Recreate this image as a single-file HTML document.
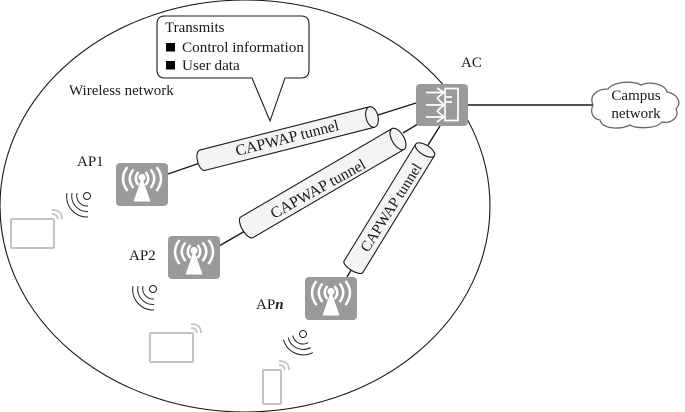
<!DOCTYPE html>
<html>
<head>
<meta charset="utf-8">
<style>
html,body{margin:0;padding:0;background:#fff}
svg{display:block}
text{font-family:"Liberation Serif",serif;fill:#1a1a1a}
</style>
</head>
<body>
<svg width="685" height="412" viewBox="0 0 685 412" xmlns="http://www.w3.org/2000/svg">
<defs>
<g id="ap">
<rect x="0" y="0" width="52" height="43" rx="4" fill="#9a9a9a"/>
<polygon points="26,14 17.500,38.500 34.500,38.500" fill="#fff"/>
<circle cx="26" cy="14.500" r="3.600" fill="#fff"/>
<g fill="none" stroke="#fff" stroke-width="2.500">
<path d="M22.500,9 Q17,15.500 22.500,22"/><path d="M29.500,9 Q35,15.500 29.500,22"/>
<path d="M17.500,6.500 Q10,15.500 17.500,25"/><path d="M34.500,6.500 Q42,15.500 34.500,25"/>
<path d="M11.500,4 Q2.500,15.500 11.500,28"/><path d="M40.500,4 Q49.500,15.500 40.500,28"/>
</g>
</g>
<g id="waves" fill="none" stroke="#222" stroke-width="1">
<circle cx="0" cy="0" r="3.500"/>
<path d="M-10,-3 A10.500,10.500 0 0 0 1,10"/>
<path d="M-15,-3 A15.500,15.500 0 0 0 1,15.500"/>
<path d="M-20,-3 A20.500,20.500 0 0 0 1,21"/>
</g>
<g id="sig" fill="none" stroke="#c4c4c4" stroke-width="1.800">
<path d="M-5,-3 Q0,-3 1,2"/>
<path d="M-5,-7 Q5,-7 5,2"/>
</g>
</defs>

<ellipse cx="245" cy="206" rx="245" ry="206" fill="#fff" stroke="#1a1a1a" stroke-width="1.100"/>

<!-- connectors -->
<g stroke="#1a1a1a" stroke-width="1.400" fill="none">
<line x1="168" y1="174" x2="200" y2="163"/>
<line x1="219" y1="246" x2="245" y2="231"/>
<line x1="347" y1="277" x2="356" y2="262"/>
<line x1="378" y1="115" x2="416" y2="103"/>
<line x1="403" y1="133" x2="418" y2="124"/>
<line x1="428" y1="145" x2="440" y2="126"/>
<line x1="468" y1="105" x2="593" y2="105"/>
</g>

<!-- tunnels -->
<g fill="#f4f4f4" stroke="#1a1a1a" stroke-width="1.100">
<g transform="translate(372,117) rotate(-14.300)">
<path d="M0,-10.500 H-175 A5,10.500 0 0 0 -175,10.500 H0"/>
<ellipse cx="0" cy="0" rx="6" ry="10.500"/>
</g>
<g transform="translate(398,139) rotate(-30.300)">
<path d="M0,-12 H-175 A5,12 0 0 0 -175,12 H0"/>
<ellipse cx="0" cy="0" rx="6" ry="12"/>
</g>
<g transform="translate(425,150) rotate(-58.500)">
<path d="M0,-11 H-137 A4,11 0 0 0 -137,11 H0"/>
<ellipse cx="0" cy="0" rx="5" ry="11"/>
</g>
</g>
<text transform="translate(237,156) rotate(-14.300)" font-size="15.700">CAPWAP tunnel</text>
<text transform="translate(274,219) rotate(-29)" font-size="15.700">CAPWAP tunnel</text>
<text transform="translate(368,253) rotate(-57.700)" font-size="15">CAPWAP tunnel</text>

<!-- AP icons -->
<use href="#ap" x="116" y="163"/>
<use href="#ap" x="168" y="236"/>
<use href="#ap" x="305" y="277"/>

<!-- AC -->
<rect x="416" y="84" width="52" height="42" rx="4" fill="#9a9a9a"/>
<g fill="none" stroke="#fff" stroke-width="1.700">
<rect x="445" y="88.500" width="13" height="32"/>
<path d="M426,92.500 H444 M437,88 L444,92.500 L437,98"/>
<path d="M426,105 H444 M437,98 L444,105 L437,111"/>
<path d="M426,117 H444 M437,111 L444,117 L437,122"/>
<path d="M445,97 H452 M445,102 H452"/>
</g>

<!-- callout -->
<path d="M165,16 H301 Q309,16 309,24 V70 Q309,78 301,78 H285 L270,121 L252,78 H165 Q157,78 157,70 V24 Q157,16 165,16 Z" fill="#fff" stroke="#1a1a1a" stroke-width="1.100"/>
<text x="165" y="32" font-size="15">Transmits</text>
<rect x="166" y="43" width="9" height="8.500" fill="#000"/>
<text x="182" y="52" font-size="15.200">Control information</text>
<rect x="166" y="61" width="9" height="8.500" fill="#000"/>
<text x="182" y="70" font-size="15.200">User data</text>

<!-- labels -->
<text x="69" y="95" font-size="15">Wireless network</text>
<text x="461" y="67" font-size="15">AC</text>
<text x="77" y="166" font-size="15">AP1</text>
<text x="129" y="260" font-size="15">AP2</text>
<text x="256" y="309" font-size="15">AP<tspan font-style="italic" font-weight="bold">n</tspan></text>

<!-- cloud -->
<path d="M593,105 C589,96 596,89 608,89 C613,82 632,80 641,85 C650,81 665,84 667,92 C678,94 682,103 676,109 C680,117 671,124 662,122 C656,129 636,129 630,125 C620,130 602,129 600,120 C592,119 590,111 593,105 Z" fill="#fff" stroke="#666" stroke-width="1.300"/>
<text x="636" y="100" font-size="15" text-anchor="middle">Campus</text>
<text x="636" y="118" font-size="15" text-anchor="middle">network</text>

<!-- radio waves -->
<use href="#waves" x="87" y="196"/>
<use href="#waves" x="153" y="289"/>
<g transform="translate(303,334) rotate(-25)"><use href="#waves"/></g>

<!-- devices -->
<g fill="#fff" stroke="#c4c4c4" stroke-width="2">
<rect x="11" y="219" width="43" height="29" rx="1"/>
<rect x="150" y="333" width="43" height="29" rx="1"/>
<rect x="263" y="370" width="18" height="34" rx="1"/>
</g>
<use href="#sig" x="57" y="217"/>
<use href="#sig" x="196" y="331"/>
<use href="#sig" x="284" y="368"/>
</svg>
</body>
</html>
